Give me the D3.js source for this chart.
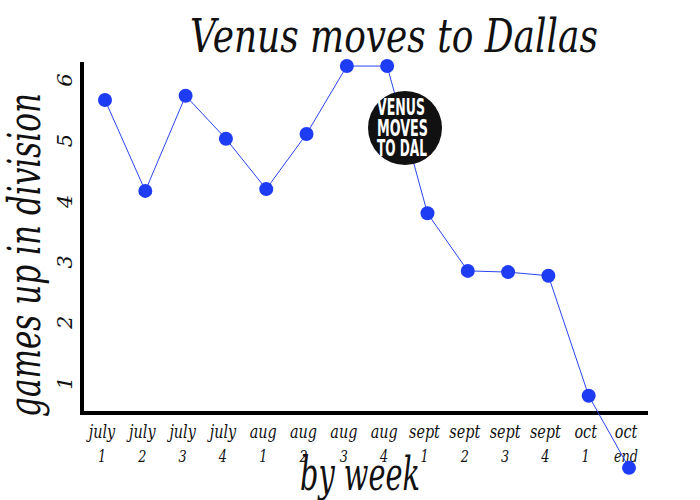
<!DOCTYPE html>
<html>
<head>
<meta charset="utf-8">
<script src="https://cdn.jsdelivr.net/npm/d3@7"></script>
<style>
  body { margin: 0; background: #fff; }
  .script { font-family: "DejaVu Serif", serif; font-style: italic; fill: #111; }
</style>
</head>
<body>
<svg id="chart" width="700" height="500"></svg>
<script>
const svg = d3.select('#chart');

// data
const months = ['july', 'july', 'july', 'july', 'aug', 'aug', 'aug', 'aug',
  'sept', 'sept', 'sept', 'sept', 'oct', 'oct'];
const weeks = ['1', '2', '3', '4', '1', '2', '3', '4', '1', '2', '3', '4', '1', 'end'];
const gamesUp = [5.67, 4.17, 5.74, 5.03, 4.2, 5.11, 6.23, 6.23, 3.8, 2.85, 2.83, 2.77, 0.79, -0.4];
const yTicks = [1, 2, 3, 4, 5, 6];

const keys = d3.range(months.length);

const x = d3.scalePoint()
  .domain(keys)
  .range([105, 629]);

const y = d3.scaleLinear()
  .domain([1, 6])
  .range([383, 80]);

// squeeze a text horizontally so it is `w` px wide (no script fonts here)
function squeeze(sel, w, tx, ty, rot) {
  const n = sel.node().getComputedTextLength();
  sel.attr('transform', `translate(${tx},${ty})` + (rot ? ` rotate(${rot})` : '') + ` scale(${w / n},1)`);
}

// title
const title = svg.append('text')
  .attr('class', 'script')
  .attr('font-size', 46)
  .text('Venus moves to Dallas');
squeeze(title, 408, 190, 52);

// axes lines
svg.append('line')
  .attr('x1', 82).attr('x2', 82)
  .attr('y1', 62).attr('y2', 415)
  .attr('stroke', '#000').attr('stroke-width', 4);

svg.append('line')
  .attr('x1', 80).attr('x2', 648)
  .attr('y1', 413).attr('y2', 413)
  .attr('stroke', '#000').attr('stroke-width', 4);

// y ticks (rotated digits)
svg.append('g')
  .selectAll('text')
  .data(yTicks)
  .enter().append('text')
  .attr('class', 'script')
  .attr('font-size', 21)
  .attr('text-anchor', 'middle')
  .attr('transform', d => `translate(72,${y(d)}) rotate(-90)`)
  .text(d => d);

// x tick labels
const xl = svg.append('g');
xl.selectAll('text.m')
  .data(keys)
  .enter().append('text')
  .attr('class', 'script m')
  .attr('text-anchor', 'middle')
  .attr('font-size', 18)
  .attr('transform', d => `translate(${x(d) - 3},438) scale(0.8,1)`)
  .text(d => months[d]);

xl.selectAll('text.w')
  .data(keys)
  .enter().append('text')
  .attr('class', 'script w')
  .attr('text-anchor', 'middle')
  .attr('font-size', 16)
  .attr('transform', d => `translate(${x(d) - 3},462) scale(0.8,1)`)
  .text(d => weeks[d]);

// axis titles
const yTitle = svg.append('text')
  .attr('class', 'script')
  .attr('font-size', 44)
  .text('games up in division');
squeeze(yTitle, 324, 40, 417, -90);

const xTitle = svg.append('text')
  .attr('class', 'script')
  .attr('font-size', 46)
  .text('by week');
squeeze(xTitle, 120, 300, 490);

// line + dots
const line = d3.line()
  .x(d => x(d))
  .y(d => y(gamesUp[d]));

svg.append('path')
  .datum(keys)
  .attr('fill', 'none')
  .attr('stroke', '#2a44f2')
  .attr('stroke-width', 1)
  .attr('d', line);

svg.append('g')
  .selectAll('circle')
  .data(keys)
  .enter().append('circle')
  .attr('cx', d => x(d))
  .attr('cy', d => y(gamesUp[d]))
  .attr('r', 7)
  .attr('fill', '#1f3cf5');

// annotation badge
const badgeLines = ['VENUS', 'MOVES', 'TO DAL'];
const badgeWidths = [48, 51, 50];
const badge = svg.append('g').attr('transform', 'translate(405,128)');
badge.append('circle').attr('r', 37).attr('fill', '#111');
badge.selectAll('text')
  .data(badgeLines)
  .enter().append('text')
  .attr('font-family', '"DejaVu Sans", sans-serif')
  .attr('font-weight', 'bold')
  .attr('font-size', 23)
  .attr('fill', '#fff')
  .text(d => d)
  .each(function (d, i) {
    squeeze(d3.select(this), badgeWidths[i], -28, -13 + i * 20.5);
  });
</script>
</body>
</html>
